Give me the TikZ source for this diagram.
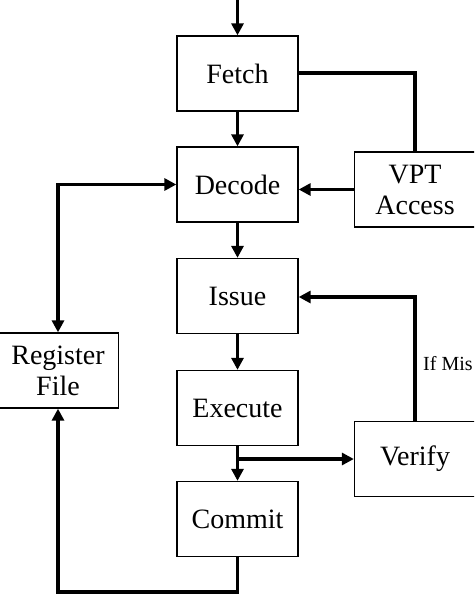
\documentclass[tikz,border=0pt]{standalone}
\usepackage{fontspec}
\setmainfont{Liberation Serif}
\usetikzlibrary{arrows.meta,positioning}

\tikzset{
  stage/.style={draw, line width=1.3pt, minimum width=121pt, minimum height=75pt,
    inner sep=0pt, align=center, font=\fontsize{28}{31}\selectfont},
  flow/.style={line width=3.2pt, -{Triangle[length=12pt,width=12pt]}},
  wire/.style={line width=3.2pt}
}

\begin{document}
\begin{tikzpicture}[x=1pt, y=-1pt]
\useasboundingbox (0,0) rectangle (474,594);
\clip (0,0) rectangle (474,594);

% Pipeline stages
\node[stage] (fetch)   at (237.5, 73.5)  {Fetch};
\node[stage] (decode)  at (237.5, 184.5) {Decode};
\node[stage] (issue)   at (237.5, 296)   {Issue};
\node[stage] (execute) at (237.5, 408)   {Execute};
\node[stage] (commit)  at (237.5, 519)   {Commit};

% Side blocks
\node[stage] (regfile) at (58, 370.5) {Register\\File};
\node[stage] (vpt)     at (415, 189.5) {VPT\\Access};
\node[stage] (verify)  at (415, 459)   {Verify};

% Helper points
\coordinate (top)    at (237.5, -5);
\coordinate (split)  at (237.5, 459);
\coordinate (bottom) at (237.5, 592);

% Main flow
\draw[flow] (top) -- (fetch);
\draw[flow] (fetch) -- (decode);
\draw[flow] (decode) -- (issue);
\draw[flow] (issue) -- (execute);
\draw[flow] (execute) -- (commit);
\draw[flow] (split) -- (verify.west);

% VPT lookup
\draw[wire] (fetch.east |- 0,73) -| (vpt.north);
\draw[flow] (vpt.west) -- (vpt.west -| decode.east);

% Misprediction replay
\draw[flow] (verify.north) |- (issue.east |- 0,297);
\node[anchor=west, inner sep=0pt, font=\fontsize{20}{24}\selectfont] (mis) at (423, 364) {If Mis};

% Register file traffic
\draw[flow, {Triangle[length=12pt,width=12pt]}-{Triangle[length=12pt,width=12pt]}]
  (decode.west |- 0,184.5) -| (regfile.north);
\draw[flow] (commit.south) |- (bottom -| regfile.south) -- (regfile.south);
\end{tikzpicture}
\end{document}
